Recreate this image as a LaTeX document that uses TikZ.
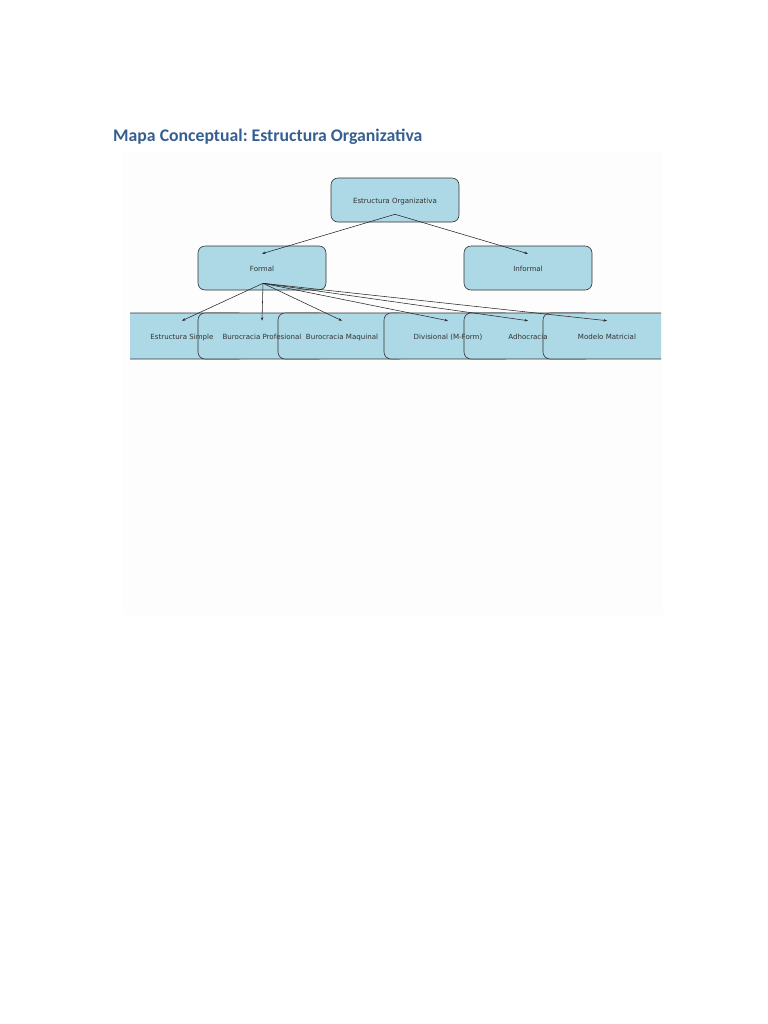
\documentclass[tikz,border=0pt]{standalone}
\usepackage{fontspec}
\setmainfont{DejaVu Sans}
\newfontfamily\titlefont{Carlito}
\usetikzlibrary{arrows.meta, positioning}
\definecolor{headblue}{HTML}{365F91}
\definecolor{boxblue}{HTML}{ADD8E6}
\frenchspacing
\tikzset{
  concept/.style={rectangle, rounded corners=7bp, minimum width=128bp, minimum height=44bp, draw=black!80, fill=boxblue, line width=0.6pt},
  conceptfont/.style={text=black!80, font=\fontsize{7.1}{8}\selectfont, text height=8bp, text depth=0.2bp},
  leafbox/.style={concept, minimum height=46bp},
  leaftext/.style={conceptfont, inner sep=0pt},
  arrow/.style={-{Stealth[length=3.5pt, width=2.5pt]}, line width=0.55pt, black!85}
}

\begin{document}
\begin{tikzpicture}[x=1bp, y=-1bp]
    \useasboundingbox (0,0) rectangle (768,1024);
    \fill[white] (0,0) rectangle (768,1024);
    \fill[black!0.7] (123,152) rectangle (663,615);

    % title
    \node (title) [anchor=base west, inner sep=0pt, text=headblue, font=\titlefont\bfseries\fontsize{17.8}{21}\selectfont] at (113,141) {Mapa Conceptual: Estructura Organizativa};

    % upper levels
    \node (root) [concept, conceptfont] at (395,200) {Estructura Organizativa};
    \node (formal) [concept, conceptfont] at (262,268) {Formal};
    \node (informal) [concept, conceptfont] at (528,268) {Informal};

    % bottom row, boxes overlap and are cut at the frame
    \begin{scope}
        \clip (130,300) rectangle (661,370);
        \foreach \name/\x in {simple/182, profesional/262, maquinal/342, divisional/448, adhocracia/528, matricial/607}
            \node (\name) [leafbox] at (\x,336) {};
    \end{scope}
    \foreach \name/\x/\txt in {simple/182/Estructura Simple, profesional/262/Burocracia Profesional, maquinal/342/Burocracia Maquinal, divisional/448/Divisional (M-Form), adhocracia/528/Adhocracia, matricial/607/Modelo Matricial}
        \node (\name-t) [leaftext] at (\x,336) {\txt};

    % connectors
    \draw [arrow] ([yshift=8bp]root.south) -- ([yshift=-8bp]formal.north);
    \draw [arrow] ([yshift=8bp]root.south) -- ([yshift=-8bp]informal.north);
    \foreach \name in {simple, profesional, maquinal, divisional, adhocracia, matricial}
        \draw [arrow] ([xshift=1bp, yshift=7bp]formal.south) -- ([yshift=-8bp]\name.north);
\end{tikzpicture}
\end{document}
